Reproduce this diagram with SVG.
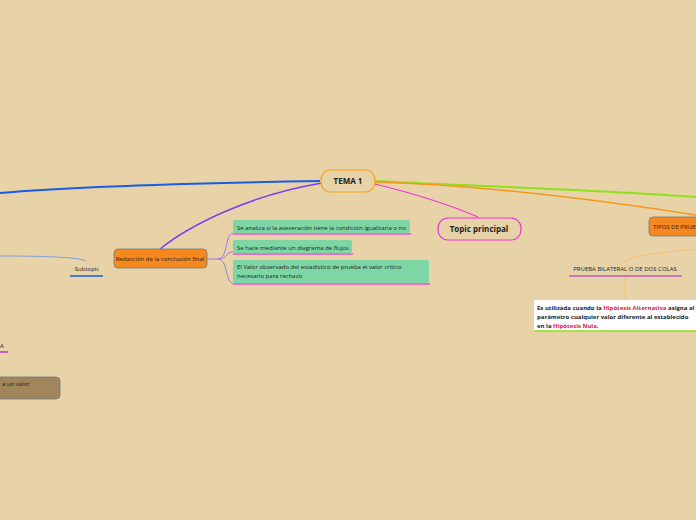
<svg xmlns="http://www.w3.org/2000/svg" width="696" height="520" viewBox="0 0 696 520">
<style>
text{font-family:"Open Sans","Noto Sans",sans-serif;fill:#222}
.s{font-size:6px}
.c{fill:none}
</style>
<rect width="696" height="520" fill="#e8d3a8"/>
<g id="connectors">
<path class="c" d="M320,181 C200,183 80,186 0,193" stroke="#1a5ce6" stroke-width="2"/>
<path class="c" d="M322,183 C250,195 190,225 160,249" stroke="#7a3ff0" stroke-width="1.5"/>
<path class="c" d="M375,181 C450,185 600,190 696,197" stroke="#8ee01a" stroke-width="2"/>
<path class="c" d="M375,182 C480,185 600,200 696,215" stroke="#f5971a" stroke-width="1.5"/>
<path class="c" d="M375,184 C420,195 450,205 478,217" stroke="#ee33dd" stroke-width="1.2"/>
<path class="c" d="M207,259 L218,259 C228,259 225,233 233,233 M218,259 C228,259 225,252 233,252 M218,259 C228,259 225,283 233,283" stroke="#9a7ae0" stroke-width="1"/>
<path class="c" d="M0,256 C40,256 80,257 86,261" stroke="#6b8ee0" stroke-width="0.8"/>
<line x1="70" y1="276" x2="103" y2="276" stroke="#1a5ce6" stroke-width="1.5"/>
<path class="c" d="M696,249 C660,253 630,255 625,262" stroke="#f5c070" stroke-width="1"/>
<line x1="625" y1="276" x2="625" y2="300" stroke="#f5c070" stroke-width="1"/>
<line x1="569" y1="276" x2="682" y2="276" stroke="#a020c0" stroke-width="1.2"/>
<line x1="0" y1="352" x2="8" y2="352" stroke="#a020c0" stroke-width="1.2"/>
</g>
<g id="tema1"><rect x="321" y="170" width="54" height="22" rx="10" fill="#e8d3a8" stroke="#f5a31a" stroke-width="1.2"/><text x="348" y="184" font-size="8" font-weight="bold" text-anchor="middle" fill="#1a3a3a">TEMA 1</text></g>
<g id="topic"><rect x="438" y="218" width="83" height="22" rx="10" fill="#e8d3a8" stroke="#ee33dd" stroke-width="1.2"/><text x="479" y="232" font-size="8" font-weight="bold" text-anchor="middle" fill="#1a3a3a">Topic principal</text></g>
<g id="redaccion"><rect x="114" y="249" width="93" height="19" rx="4" fill="#f5891f" stroke="#777" stroke-width="0.8"/><text x="160" y="261" class="s" text-anchor="middle">Redacción de la conclusión final</text></g>
<g id="n1"><rect x="233" y="220" width="177" height="13" rx="2" fill="#7dd6a4"/><line x1="233" y1="234" x2="411" y2="234" stroke="#ee11dd" stroke-width="1"/><text x="237" y="229.5" class="s">Se analiza si la aseveración tiene la condición igualitaria o no</text></g>
<g id="n2"><rect x="233" y="240" width="119" height="13" rx="2" fill="#7dd6a4"/><line x1="233" y1="254" x2="353" y2="254" stroke="#ee11dd" stroke-width="1"/><text x="237" y="249.5" class="s">Se hace mediante un diagrama de flujos</text></g>
<g id="n3"><rect x="233" y="260" width="196" height="23" rx="2" fill="#7dd6a4"/><line x1="233" y1="284" x2="430" y2="284" stroke="#ee11dd" stroke-width="1"/><text x="237" y="269" class="s">El Valor observado del estadístico de prueba el valor crítico</text><text x="237" y="278" class="s">necesario para rechazo</text></g>
<g id="subtopic"><text x="87" y="271" class="s" text-anchor="middle">Subtopic</text></g>
<g id="a"><text x="0" y="348" class="s">A</text></g>
<g id="valor"><rect x="-10" y="377" width="70" height="22" rx="4" fill="#a0865a" stroke="#6a7a8a" stroke-width="0.8"/><text x="2" y="386" class="s">a un valor</text></g>
<g id="tipos"><rect x="649" y="217" width="60" height="19" rx="4" fill="#f5891f" stroke="#777" stroke-width="0.8"/><text x="653" y="229" class="s">TIPOS DE PRUEBA</text></g>
<g id="bilateral"><text x="625" y="271" class="s" text-anchor="middle">PRUEBA BILATERAL O DE DOS COLAS</text></g>
<g id="desc"><rect x="534" y="300" width="170" height="31" fill="#fff"/><line x1="534" y1="331" x2="696" y2="331" stroke="#8ee01a" stroke-width="1.5"/>
<text x="537" y="310" class="s" font-weight="bold">Es utilizada cuando la <tspan fill="#d6204a">Hipótesis Alternativa</tspan> asigna al</text>
<text x="537" y="319" class="s" font-weight="bold">parámetro cualquier valor diferente al establecido</text>
<text x="537" y="328" class="s" font-weight="bold">en la <tspan fill="#d6204a">Hipótesis Nula.</tspan></text></g>
</svg>
